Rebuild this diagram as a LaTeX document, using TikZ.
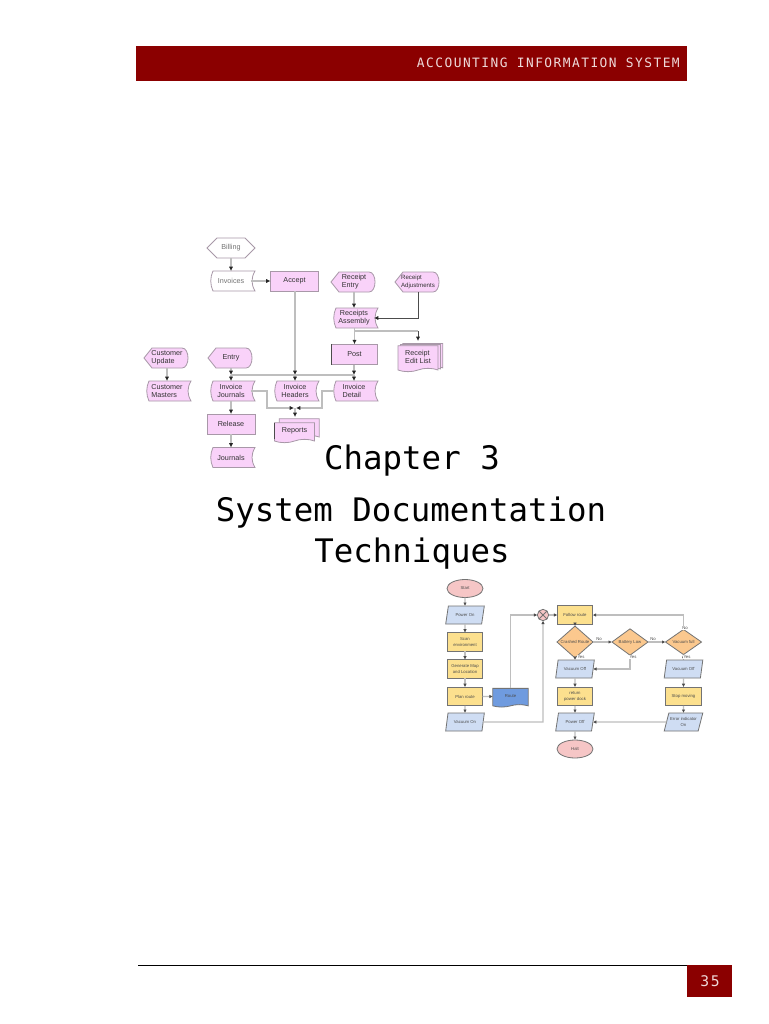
\documentclass[tikz,border=0pt]{standalone}
\usepackage{fontspec}
\setmainfont{Liberation Sans}
\newfontfamily\monofont{DejaVu Sans Mono}
\newfontfamily\headfont[LetterSpace=11.4]{DejaVu Sans Mono}
\usetikzlibrary{shapes.geometric,shapes.symbols,shadows,arrows.meta,calc}
\definecolor{headred}{HTML}{8B0000}
\definecolor{pinkfill}{HTML}{F9D2F9}
\definecolor{pinkline}{HTML}{A898A8}
\definecolor{bluefill}{HTML}{CFDDF3}
\definecolor{yellowfill}{HTML}{FCE08E}
\definecolor{orangefill}{HTML}{FBC88E}
\definecolor{redfill}{HTML}{F6C6C6}
\definecolor{routefill}{HTML}{6F9BDF}
\definecolor{flowline}{HTML}{BEBEBE}
\newcommand{\adjfont}{\fontsize{4.6}{6}\selectfont}
\tikzset{
	pinktext/.style={font=\fontsize{5.4}{6.2}\selectfont, text=black!80, align=center, inner sep=0pt, outer sep=0pt},
	pinkrect/.style={pinktext, draw=pinkline, fill=pinkfill, line width=.6pt, minimum width=36pt, minimum height=15pt},
	pinkdoc/.style={pinktext, tape, tape bend top=none, tape bend height=2.5pt, draw=pinkline, fill=pinkfill, line width=.6pt, minimum width=30pt, minimum height=15pt},
	ghost/.style={pinktext, minimum width=30pt, minimum height=15pt},
	ghosttext/.style={},
	boxpath/.style={draw=pinkline, fill=pinkfill, line width=.6pt},
	leftbox/.style={ghosttext/.style={align=left}},
	whitebox/.style={boxpath/.append style={fill=white}},
	flow/.style={draw=flowline, line width=.8pt, -{Latex[black!85,length=3.2pt,width=3.2pt]}},
	flowplain/.style={draw=flowline, line width=.8pt},
	flowdark/.style={flow, draw=black!70, line width=.7pt},
	edgedark/.style={draw=black!70, line width=.8pt},
	smalltext/.style={font=\fontsize{3.2}{3.9}\selectfont, text=black!70, align=center, inner sep=0pt, outer sep=0pt},
	outlined/.style={smalltext, draw=black!55, line width=.6pt},
	datanode/.style={outlined, trapezium, trapezium stretches=true, trapezium left angle=63, trapezium right angle=117, fill=bluefill, minimum width=29pt, minimum height=13.5pt},
	processnode/.style={outlined, fill=yellowfill, minimum width=26.5pt, minimum height=14pt},
	decisionnode/.style={outlined, diamond, fill=orangefill, minimum width=27pt, minimum height=16.5pt},
	endnode/.style={outlined, ellipse, fill=redfill, minimum width=27pt, minimum height=13.5pt},
	arrowlabel/.style={smalltext, fill=white, inner sep=.3pt},
	flowb/.style={draw=flowline, line width=1pt, -{Latex[black!70,length=2.6pt,width=2.6pt]}},
	titletext/.style={font=\monofont\fontsize{24.3}{30}\selectfont, inner sep=0pt}
}
\newcommand{\storedbox}[5][]{
	\begin{scope}[shift={(#3,#4)},#1]
		\draw[boxpath] (-18,-10) -- (24,-10) .. controls (20,-3) and (20,3) .. (24,10) -- (-18,10) .. controls (-21,4) and (-21,-4) .. (-18,-10) -- cycle;
		\node[ghost,ghosttext] (#2) at (0,0) {#5};
	\end{scope}
}
\newcommand{\displaybox}[5][]{
	\begin{scope}[shift={(#3,#4)},#1]
		\draw[boxpath] (-23,0) -- (-15,-10) -- (15,-10) .. controls (19,-10) and (21,-5) .. (21,0) .. controls (21,5) and (19,10) .. (15,10) -- (-15,10) -- cycle;
		\node[ghost,ghosttext] (#2) at (0,0) {#5};
	\end{scope}
}
\begin{document}
\begin{tikzpicture}[x=.75pt,y=-.75pt]
	\useasboundingbox (0,0) rectangle (768,1024);
	\fill[white] (0,0) rectangle (768,1024);

	\fill[headred] (136,46) rectangle (687,81);
	\node[anchor=east, inner sep=0pt, text=white!85!headred, font=\headfont\fontsize{9.65}{12}\selectfont] (headtext) at (680,63) {ACCOUNTING INFORMATION SYSTEM};
	\draw[line width=.8pt] (138,965.5) -- (687,965.5);
	\fill[headred] (687,965) rectangle (732,997);
	\node[inner sep=0pt, text=white!85!headred, font=\headfont\fontsize{11}{14}\selectfont] (pagenum) at (710,981) {35};

	\node[titletext] (chaptext) at (412,460.5) {Chapter 3};
	\node[titletext] (titleone) at (411,512.5) {System Documentation};
	\node[titletext] (titletwo) at (412,553.5) {Techniques};

	\draw[boxpath, whitebox, fill=white] (207,248) -- (217,238) -- (245,238) -- (255,248) -- (245,258) -- (217,258) -- cycle;
	\node[ghost, text=black!55] (billing) at (231,248) {Billing};
	\storedbox[whitebox]{invoices}{231}{281}{\textcolor{black!55}{Invoices}}
	\node[pinkrect] (accept) at (294.5,281) {Accept};
	\displaybox[leftbox]{recentry}{354}{282}{Receipt\\Entry}
	\displaybox[leftbox]{recadj}{418}{282}{\adjfont Receipt\\\adjfont Adjustments}
	\storedbox{recasm}{354}{318}{Receipts\\Assembly}
	\node[pinkrect, minimum width=35pt, minimum height=15.5pt] (post) at (354.5,354.5) {Post};
	\draw[edgedark] (post.north west) -- (post.south west);
	\node[pinkdoc, align=left, minimum height=19.5pt, double copy shadow={shadow xshift=1.8pt, shadow yshift=.8pt}] (editlist) at (418,357) {Receipt\\Edit List};
	\displaybox[leftbox]{custupd}{167}{358}{Customer\\Update}
	\storedbox[leftbox]{custmast}{167}{391}{Customer\\Masters}
	\displaybox{entry}{231}{358}{Entry}
	\storedbox{invjour}{231}{391}{Invoice\\Journals}
	\storedbox{invhead}{295}{391}{Invoice\\Headers}
	\storedbox[leftbox]{invdet}{354}{391}{Invoice\\Detail}
	\node[pinkdoc, copy shadow={shadow xshift=3.5pt, shadow yshift=3pt}] (reports) at (294.5,431) {Reports};
	\draw[edgedark] (reports.north west) -- (reports.south west);
	\node[pinkrect] (release) at (231,424) {Release};
	\storedbox{journals}{231}{457.5}{Journals}

	\coordinate (entrybus) at (231,375);
	\coordinate (acceptbus) at (295,375);
	\coordinate (postbus) at (354,375);
	\coordinate (meetleft) at (267,391);
	\coordinate (meetright) at (322,391);
	\coordinate (repjoin) at (295,408);
	\coordinate (editturn) at (418,331);
	\coordinate (edittop) at (418,341);
	\coordinate (reptop) at (295,417);
	\coordinate (asmturn) at (354,331);
	\coordinate (adjturn) at (418,318);

	\draw[flow] (billing) -- (invoices);
	\draw[flow] (invoices) -- (accept);
	\draw[flow] (accept.south -| acceptbus) -- (acceptbus);
	\draw[flow] (acceptbus) -- (invhead.north);
	\draw[flow] (recentry) -- (recasm);
	\draw[flowdark] (recadj) -- (adjturn) -- (recasm.east);
	\draw[flow] (recasm.south -| post) -- (post);
	\draw[flowplain] (asmturn) -- (editturn);
	\draw[flowdark] (editturn) -- (edittop);
	\draw[flow] (post.south -| postbus) -- (postbus);
	\draw[flow] (postbus) -- (invdet.north);
	\draw[flow] (entry) -- (entrybus);
	\draw[flow] (entrybus) -- (invjour.north);
	\draw[flowplain] (entrybus) -- (postbus);
	\draw[flow] (custupd) -- (custmast);
	\draw[flow] (invjour) -- (release);
	\draw[flow] (release) -- (journals);
	\draw[flow] (invjour.east) -- (meetleft) |- ($(repjoin)+(-1,0)$);
	\draw[flow] (invdet.west) -- (meetright) |- ($(repjoin)+(1,0)$);
	\draw[flow] (repjoin) -- (reptop);

	\node[endnode] (start) at (465,588.5) {Start};
	\node[datanode] (poweron) at (465,615) {Power On};
	\node[processnode] (scan) at (465,642) {Scan\\environment};
	\node[processnode] (genmap) at (465,669) {Generate Map\\and Location};
	\node[processnode] (planroute) at (465,696.5) {Plan route};
	\node[datanode] (vacon) at (465,722) {Vacuum On};
	\node[outlined, tape, tape bend top=none, tape bend height=1.8pt, fill=routefill, minimum width=26.5pt, minimum height=14pt] (routedoc) at (510.5,696.5) {Route};
	\node[outlined, circle, fill=redfill, minimum size=8.5pt] (summing) at (543,615) {};
	\draw[draw=black!55, line width=.6pt] (summing.north west) -- (summing.south east);
	\draw[draw=black!55, line width=.6pt] (summing.north east) -- (summing.south west);
	\node[processnode] (follow) at (575,615) {Follow route};
	\node[decisionnode] (crashed) at (575,642) {Crashed Route};
	\node[decisionnode] (battery) at (630,642) {Battery Low};
	\node[decisionnode] (vacfull) at (683.5,642) {Vacuum full};
	\node[datanode] (vacoffa) at (575,669) {Vacuum Off};
	\node[processnode] (retdock) at (575,696.5) {return\\power dock};
	\node[datanode] (poweroff) at (575,722) {Power Off};
	\node[endnode] (halt) at (575,749) {Halt};
	\node[datanode] (vacoffb) at (683.5,669) {Vacuum Off};
	\node[processnode] (stopmove) at (683.5,696.5) {Stop moving};
	\node[datanode] (errorind) at (683.5,722) {Error indicator\\On};

	\coordinate (routeturn) at (510.5,615);
	\coordinate (vacturn) at (543,722);
	\coordinate (fullturn) at (683.5,615);

	\draw[flowb] (start) -- (poweron);
	\draw[flowb] (poweron) -- (scan);
	\draw[flowb] (scan) -- (genmap);
	\draw[flowb] (genmap) -- (planroute);
	\draw[flowb] (planroute) -- (vacon);
	\draw[flowb] (planroute) -- (routedoc);
	\draw[flowb] (routedoc.north) -- (routeturn) -- (summing.west);
	\draw[flowb] (vacon.east) -- (vacturn) -- (summing.south);
	\draw[flowb] (summing) -- (follow);
	\draw[flowb] (follow) -- (crashed);
	\draw[flowb] (crashed) -- (battery);
	\draw[flowb] (battery) -- (vacfull);
	\draw[flowb] (crashed) -- (vacoffa);
	\draw[flowb] (battery.south) |- (vacoffa.east);
	\draw[flowb] (vacfull.north) -- (fullturn) -- (follow.east);
	\draw[flowb] (vacfull) -- (vacoffb);
	\draw[flowb] (vacoffb) -- (stopmove);
	\draw[flowb] (stopmove) -- (errorind);
	\draw[flowb] (errorind) -- (poweroff);
	\draw[flowb] (vacoffa) -- (retdock);
	\draw[flowb] (retdock) -- (poweroff);
	\draw[flowb] (poweroff) -- (halt);

	\node[arrowlabel] (labcrash) at (599,639) {No};
	\node[arrowlabel] (labbatt) at (653,639) {No};
	\node[arrowlabel] (labcryes) at (581,657) {Yes};
	\node[arrowlabel] (labbayes) at (633,657) {Yes};
	\node[arrowlabel] (labfuno) at (685,628) {No};
	\node[arrowlabel] (labfuyes) at (687,657) {Yes};
\end{tikzpicture}
\end{document}
